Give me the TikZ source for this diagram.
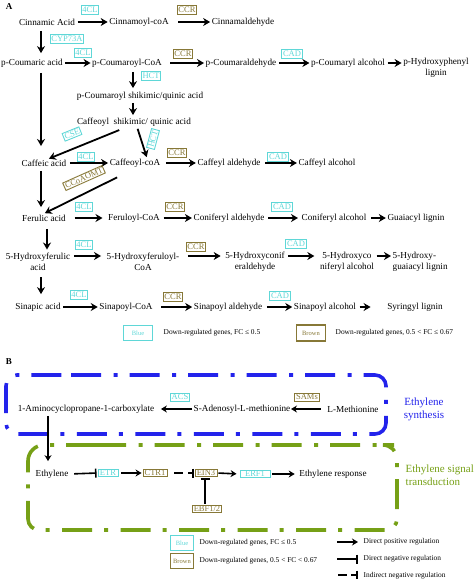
\documentclass[tikz,border=0pt]{standalone}
\usepackage{fontspec}
\setmainfont{Liberation Serif}
\usetikzlibrary{arrows.meta}
\definecolor{cyb}{RGB}{95,215,215}
\definecolor{brb}{RGB}{135,120,55}
\definecolor{blfr}{RGB}{35,35,235}
\definecolor{grfr}{RGB}{118,160,22}
\begin{document}
\begin{tikzpicture}[x=1pt,y=-1pt,
  t/.style={font=\fontsize{9.2}{11}\selectfont, inner sep=0.5pt, align=center},
  lg/.style={font=\fontsize{7.4}{9}\selectfont, inner sep=0.5pt, anchor=west},
  cybox/.style={draw=cyb, text=cyb, line width=0.9pt, inner sep=1.2pt, font=\fontsize{8.5}{9}\selectfont},
  brbox/.style={draw=brb, text=brb, line width=0.9pt, inner sep=1.2pt, font=\fontsize{8.5}{9}\selectfont},
  arr/.style={-{Stealth[length=7pt,width=8pt]}, line width=1.8pt, shorten <=2pt, shorten >=1pt},
  inh/.style={-{Bar[width=9pt]}, line width=1.6pt, shorten <=2pt, shorten >=1pt},
  dinh/.style={-{Bar[width=9pt]}, line width=1.6pt, dash pattern=on 9pt off 5pt on 30pt, shorten <=2pt, shorten >=1pt},
  frame/.style={line width=3.6pt, rounded corners=11pt, dash pattern=on 30pt off 12.5pt on 4pt off 12pt},
  lbox/.style={line width=1.8pt, minimum width=28pt, minimum height=14pt, inner sep=0pt, font=\fontsize{6.5}{7}\selectfont}
]
\useasboundingbox (0,0) rectangle (474,579);

% ---------------- A ----------------
\node[font=\bfseries\fontsize{9}{10}\selectfont] (labA) at (9,7) {A};

\node[t] (ca) at (47,22) {Cinnamic Acid};
\node[t] (cc) at (139,22) {Cinnamoyl-coA};
\node[t] (cald) at (243,22) {Cinnamaldehyde};
\draw[arr] (ca.east) -- (cc.west);
\draw[arr] ([xshift=7pt]cc.east) -- (cald.west);
\node[cybox] (e1) at (90,10) {4CL};
\node[brbox] (e2) at (187,10) {CCR};

\node[t] (pca) at (32,63) {p-Coumaric acid};
\node[t] (pcc) at (127,63) {p-Coumaroyl-CoA};
\node[t] (pcald) at (241,63) {p-Coumaraldehyde};
\node[t] (pcalc) at (348,63) {p-Coumaryl alcohol};
\node[t, anchor=north] (phl) at (436,57) {p-Hydroxyphenyl\\lignin};
\draw[arr] (pca.east) -- (pcc.west);
\draw[arr] ([xshift=6pt]pcc.east) -- (pcald.west);
\draw[arr] (pcald.east) -- (pcalc.west);
\draw[arr] (pcalc.east) -- (pcalc.east -| phl.west);
\node[cybox] (e3) at (83,53) {4CL};
\node[brbox] (e4) at (183,54) {CCR};
\node[cybox] (e5) at (292,54) {CAD};

\node[cybox] (e6) at (67,39) {CYP73A};
\draw[arr, shorten <=5pt, shorten >=5pt] ([xshift=-6pt]ca.south) -- ([xshift=-6pt]ca.south |- pca.north);

\node[t] (pcs) at (140,96) {p-Coumaroyl shikimic/quinic acid};
\node[t] (css) at (134,122) {Caffeoyl\ \ shikimic/ quinic acid};
\draw[arr, shorten <=4pt, shorten >=3pt] ([xshift=6pt]pcc.south) -- ([xshift=6pt]pcc.south |- pcs.north);
\node[cybox] (e7) at (151,76) {HCT};
\draw[arr, shorten <=2pt, shorten >=2pt] ([xshift=-7pt]pcs.south) -- ([xshift=-7pt]pcs.south |- css.north);

\node[t] (cfa) at (44,163) {Caffeic acid};
\node[t] (cfc) at (135,163) {Caffeoyl-coA};
\node[t] (cfald) at (229,163) {Caffeyl aldehyde};
\node[t] (cfalc) at (327,163) {Caffeyl alcohol};
\draw[arr, shorten <=5pt, shorten >=13pt] ([xshift=9pt]pca.south) -- ([xshift=9pt]pca.south |- cfa.north);
\draw[arr, shorten <=3pt] ([xshift=-12pt,yshift=-2pt]css.south) -- ([xshift=4pt]cfa.north);
\draw[arr] ([xshift=3pt]css.south) -- ([xshift=12pt]cfc.north);
\node[cybox, rotate=22] (e8) at (72,134) {CSE};
\node[cybox, rotate=75] (e9) at (153,139) {HCT};
\draw[arr, shorten <=3pt] (cfa.east) -- (cfc.west);
\draw[arr, shorten <=5pt] (cfc.east) -- (cfald.west);
\draw[arr, shorten <=4pt] (cfald.east) -- (cfalc.west);
\node[cybox] (e10) at (86,157) {4CL};
\node[brbox] (e11) at (177,153) {CCR};
\node[cybox] (e12) at (278,157) {CAD};

\node[t] (fa) at (44,218) {Ferulic acid};
\node[t] (fc) at (134,218) {Feruloyl-CoA};
\node[t] (coald) at (229,218) {Coniferyl aldehyde};
\node[t] (coalc) at (334,218) {Coniferyl alcohol};
\node[t] (gl) at (416,218) {Guaiacyl lignin};
\draw[arr, shorten <=1pt, shorten >=2pt] ([xshift=-17pt,yshift=-9pt]cfc.south) -- ([xshift=-1pt]fa.north);
\node[brbox, rotate=24] (e13) at (84,178) {CCoAOMT};
\draw[arr, shorten <=4pt, shorten >=7pt] ([xshift=-3pt]cfa.south) -- ([xshift=-3pt]cfa.south |- fa.north);
\draw[arr, shorten <=8pt, shorten >=5pt] (fa.east) -- (fc.west);
\draw[arr, shorten <=3pt] (fc.east) -- (coald.west);
\draw[arr, shorten <=3pt, shorten >=3pt] (coald.east) -- (coalc.west);
\draw[arr, shorten <=4pt] (coalc.east) -- (gl.west);
\node[cybox] (e14) at (84,207) {4CL};
\node[brbox] (e15) at (175,207) {CCR};
\node[cybox] (e16) at (282,207) {CAD};

\node[t] (hfa) at (38,262) {5-Hydroxyferulic\\acid};
\node[t] (hfc) at (143,262) {5-Hydroxyferuloyl-\\CoA};
\node[t] (hcald) at (255,262) {5-Hydroxyconif\\eraldehyde};
\node[t] (hcalc) at (347,262) {5-Hydroxyco\\niferyl alcohol};
\node[t, align=left, anchor=west] (hgl) at (392,262) {5-Hydroxy-\\guaiacyl lignin};
\draw[arr, shorten <=7pt, shorten >=3pt] ([xshift=3pt]fa.south) -- ([xshift=3pt]fa.south |- hfa.north);
\draw[arr, shorten <=3pt, shorten >=5pt] ([yshift=6pt]hfa.east) -- ([yshift=6pt]hfc.west);
\draw[arr, shorten <=8pt, shorten >=4pt] ([yshift=6pt]hfc.east) -- ([yshift=6pt]hcald.west);
\draw[arr, shorten <=3pt, shorten >=5pt] ([yshift=6pt]hcald.east) -- ([yshift=6pt]hcalc.west);
\draw[arr] ([yshift=6pt]hcalc.east) -- ([yshift=6pt]hgl.west);
\node[cybox] (e17) at (84,245) {4CL};
\node[brbox] (e18) at (196,247) {CCR};
\node[cybox] (e19) at (296,244) {CAD};

\node[t] (sa) at (38,307) {Sinapic acid};
\node[t] (sc) at (126,307) {Sinapoyl-CoA};
\node[t] (sald) at (228,307) {Sinapoyl aldehyde};
\node[t] (salc) at (325,307) {Sinapoyl alcohol};
\node[t] (sl) at (415,307) {Syringyl lignin};
\draw[arr, shorten <=6pt, shorten >=8pt] ([xshift=3pt]hfa.south) -- ([xshift=3pt]hfa.south |- sa.north);
\draw[arr] (sa.east) -- (sc.west);
\draw[arr, shorten <=8pt] (sc.east) -- (sald.west);
\draw[arr, shorten <=4pt] (sald.east) -- (salc.west);
\draw[arr, shorten <=3pt, shorten >=16pt] (salc.east) -- (sl.west);
\node[cybox] (e20) at (79,295) {4CL};
\node[brbox] (e21) at (173,297) {CCR};
\node[cybox] (e22) at (280,296) {CAD};

\node[lbox, draw=cyb, text=cyb, minimum width=29pt, minimum height=15pt] (lbA1) at (138,333) {Blue};
\node[lg] (lgA1) at (163,333) {Down-regulated genes, FC ≤ 0.5};
\node[lbox, draw=brb, text=brb, minimum width=29pt, minimum height=16pt] (lbA2) at (311,333) {Brown};
\node[lg] (lgA2) at (335,333) {Down-regulated genes, 0.5 < FC ≤ 0.67};

% ---------------- B ----------------
\node[font=\bfseries\fontsize{9}{10}\selectfont] (labB) at (9,362) {B};

\draw[frame, draw=blfr] (60,375) -- (386,375) -- (386,434) -- (6,434) -- (6,375) -- cycle;
\draw[frame, draw=grfr] (80,445) -- (383,445) [rounded corners=14pt] -- (397,445) [rounded corners=11pt] -- (397,530) -- (28,530) [rounded corners=16pt] -- (28,445) -- cycle;

\node[t, text=blfr, font=\fontsize{11}{13}\selectfont] (esyn) at (424,409) {Ethylene\\synthesis};
\node[t, text=grfr, font=\fontsize{11}{13}\selectfont, align=left, anchor=west] (esig) at (405,475) {Ethylene signal\\transduction};

\node[t] (acc) at (86,409) {1-Aminocyclopropane-1-carboxylate};
\node[t] (sam) at (242,409) {S-Adenosyl-L-methionine};
\node[t] (met) at (353,409) {L-Methionine};
\draw[arr, -{Stealth[length=6pt,width=7pt]}, line width=1.6pt, shorten <=1pt, shorten >=6pt] (sam.west) -- (acc.east);
\draw[arr, -{Stealth[length=6pt,width=7pt]}, line width=1.6pt, shorten <=6pt, shorten >=0pt] (met.west) -- (sam.east);
\node[cybox] (acs) at (180,397) {ACS};
\node[brbox] (sams) at (307,397) {SAMs};

\node[t] (eth) at (52,474) {Ethylene};
\draw[arr, -{Stealth[length=6pt,width=7pt]}, line width=1.6pt, shorten <=2pt, shorten >=8pt] ([xshift=-38pt]acc.south) -- ([xshift=-38pt]acc.south |- eth.north);

\node[cybox, minimum width=20pt, inner sep=1pt] (etr) at (108,473) {ETR};
\node[brbox, minimum width=24pt, inner sep=1pt] (ctr) at (155,473) {CTR1};
\node[brbox, minimum width=22pt, inner sep=1pt] (ein) at (206,473) {EIN3};
\node[cybox, minimum width=30pt, inner sep=1pt] (erf) at (255,474) {ERF1};
\node[t] (resp) at (333,474) {Ethylene response};
\node[brbox, minimum width=29pt, inner sep=1pt] (ebf) at (207,509) {EBF1/2};

\draw[inh, shorten <=5pt] (eth.east) -- (etr.west);
\draw[arr, -{Stealth[length=6pt,width=7pt]}, line width=1.6pt, shorten <=3pt] (etr.east) -- (ctr.west);
\draw[dinh, shorten <=7pt] (ctr.east) -- (ein.west);
\draw[arr, -{Stealth[length=6pt,width=7pt]}, line width=1.6pt, shorten <=1pt, shorten >=3pt] (ein.east) -- (erf.west);
\draw[arr, -{Stealth[length=6pt,width=7pt]}, line width=1.6pt, shorten <=2pt, shorten >=4pt] (erf.east) -- (resp.west);
\draw[inh, shorten <=1pt, shorten >=1pt] ([xshift=-2pt]ebf.north) -- ([xshift=-2pt]ebf.north |- ein.south);

\node[lbox, draw=cyb, text=cyb, minimum width=23pt, minimum height=15pt] (lbB1) at (182,543) {Blue};
\node[lg] (lgB1) at (199,543) {Down-regulated genes, FC ≤ 0.5};
\node[lbox, draw=brb, text=brb, minimum width=23pt, minimum height=15pt] (lbB2) at (182,561) {Brown};
\node[lg] (lgB2) at (199,561) {Down-regulated genes, 0.5 < FC < 0.67};

\coordinate (k1) at (337,542);
\coordinate (k2) at (337,559);
\coordinate (k3) at (338,575);
\node[lg] (lk1) at (363,542) {Direct positive regulation};
\node[lg] (lk2) at (363,559) {Direct negative regulation};
\node[lg] (lk3) at (363,576) {Indirect negative regulation};
\draw[-{Stealth[length=6pt,width=7pt]}, line width=1.6pt, shorten >=5pt] (k1) -- (lk1.west);
\draw[-{Bar[width=9pt]}, line width=1.6pt, shorten >=5pt] (k2) -- (lk2.west);
\draw[-{Bar[width=9pt]}, line width=1.6pt, dash pattern=on 9pt off 4pt on 30pt, shorten >=5pt] (k3) -- (lk3.west |- k3);
\end{tikzpicture}
\end{document}
